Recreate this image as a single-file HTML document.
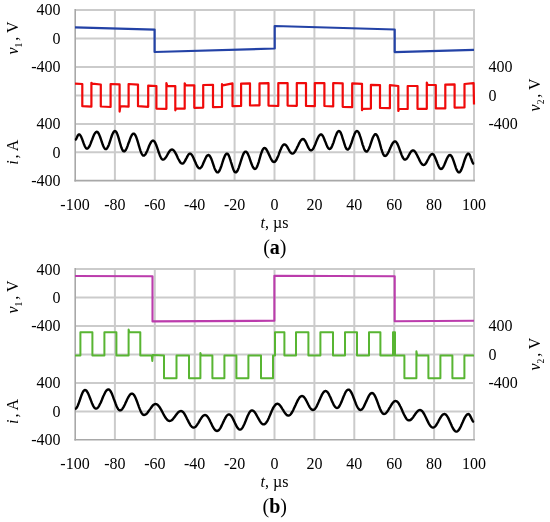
<!DOCTYPE html>
<html><head><meta charset="utf-8"><style>
html,body{margin:0;padding:0;background:#fff;}
svg{display:block;}
</style></head><body>
<svg width="550" height="522" viewBox="0 0 550 522">
<rect width="550" height="522" fill="#fff"/>
<g stroke="#cbcbcb" stroke-width="2"><line x1="114.9" y1="9" x2="114.9" y2="180.8"/><line x1="154.8" y1="9" x2="154.8" y2="180.8"/><line x1="194.7" y1="9" x2="194.7" y2="180.8"/><line x1="234.6" y1="9" x2="234.6" y2="180.8"/><line x1="274.5" y1="9" x2="274.5" y2="180.8"/><line x1="314.4" y1="9" x2="314.4" y2="180.8"/><line x1="354.3" y1="9" x2="354.3" y2="180.8"/><line x1="394.2" y1="9" x2="394.2" y2="180.8"/><line x1="434.1" y1="9" x2="434.1" y2="180.8"/><line x1="75" y1="10" x2="475" y2="10"/><line x1="75" y1="38.5" x2="475" y2="38.5"/><line x1="75" y1="66.9" x2="475" y2="66.9"/><line x1="75" y1="95.4" x2="475" y2="95.4"/><line x1="75" y1="123.9" x2="475" y2="123.9"/><line x1="75" y1="152.3" x2="475" y2="152.3"/><line x1="474" y1="9" x2="474" y2="180.8"/></g><g stroke="#a8a8a8" stroke-width="1.6"><line x1="75.2" y1="9" x2="75.2" y2="181.4"/><line x1="74.4" y1="180.6" x2="475" y2="180.6"/></g>
<g stroke="#cbcbcb" stroke-width="2"><line x1="114.9" y1="268.1" x2="114.9" y2="439.9"/><line x1="154.8" y1="268.1" x2="154.8" y2="439.9"/><line x1="194.7" y1="268.1" x2="194.7" y2="439.9"/><line x1="234.6" y1="268.1" x2="234.6" y2="439.9"/><line x1="274.5" y1="268.1" x2="274.5" y2="439.9"/><line x1="314.4" y1="268.1" x2="314.4" y2="439.9"/><line x1="354.3" y1="268.1" x2="354.3" y2="439.9"/><line x1="394.2" y1="268.1" x2="394.2" y2="439.9"/><line x1="434.1" y1="268.1" x2="434.1" y2="439.9"/><line x1="75" y1="269.1" x2="475" y2="269.1"/><line x1="75" y1="297.6" x2="475" y2="297.6"/><line x1="75" y1="326" x2="475" y2="326"/><line x1="75" y1="354.5" x2="475" y2="354.5"/><line x1="75" y1="383" x2="475" y2="383"/><line x1="75" y1="411.5" x2="475" y2="411.5"/><line x1="474" y1="268.1" x2="474" y2="439.9"/></g><g stroke="#a8a8a8" stroke-width="1.6"><line x1="75.2" y1="268.1" x2="75.2" y2="440.5"/><line x1="74.4" y1="439.7" x2="475" y2="439.7"/></g>
<polyline points="75,27.3 154.6,29.6 154.6,52 274.7,48.5 274.7,26 394.7,29.5 394.7,52.1 474,49.8" fill="none" stroke="#2342a6" stroke-width="2.2" stroke-linejoin="round" stroke-linecap="butt"/>
<polyline points="75,83.6 82.3,84 82.3,106.2 91.4,106.6 91.4,82.8 92.2,83.6 100.8,84.5 100.8,106.5 110.6,107 110.6,84 119.6,84.4 119.6,111.6 120.4,106.2 128.6,106.6 128.6,84 138,84.6 138,106.2 148.2,106.8 148.2,85.6 156.4,86 156.4,108.6 166.4,108.8 166.4,83 167.2,85.8 175.3,86.2 175.3,110.3 176.1,108.4 184.7,108.6 184.7,83.3 185.5,85.2 194.3,85.3 194.3,107.8 203.2,107.6 203.2,85 213,84.8 213,107.2 222,107 222,84 222.8,85.4 232.5,83.4 232.5,106.2 241.1,106 241.1,83.6 250,83.4 250,105.5 259.5,105.3 259.5,83.4 268.5,83.2 268.5,105.6 278.3,106 278.3,83.2 287.6,83 287.6,105.6 296.8,105.8 296.8,83 306,83.2 306,106 314.8,106.2 314.8,83 324.4,83.2 324.4,106 333.2,106.4 333.2,83 342.7,83.4 342.7,106.8 352.2,107.2 352.2,83.4 362,83.8 362,110.2 362.8,108.8 370.9,108.6 370.9,84.8 380,85.2 380,108 389.9,108.2 389.9,85.2 398.3,86 398.3,111 399.1,108.8 407.7,109 407.7,86 417.5,86 417.5,108.8 426.8,108.8 426.8,82.6 427.6,84.8 435.8,85 435.8,108.4 445.3,108.4 445.3,84.6 454.6,84.4 454.6,107.6 464.5,107.4 464.5,84 473.6,83.2 474,104.5" fill="none" stroke="#f00a0a" stroke-width="2.2" stroke-linejoin="round" stroke-linecap="butt"/>
<polyline points="75,140 75.5,139.8 76,139.2 76.5,138.3 77,137.2 77.5,136.1 78,135.2 78.5,134.6 79,134.4 79.5,134.5 80,134.9 80.5,135.6 81,136.5 81.5,137.6 82,138.8 82.5,140.1 83,141.5 83.5,142.9 84,144.2 84.5,145.4 85,146.5 85.5,147.4 86,148.1 86.5,148.5 87,148.6 87.5,148.5 88,148.1 88.5,147.6 89.1,146.8 89.6,145.9 90.1,144.8 90.6,143.6 91.1,142.3 91.6,140.9 92.2,139.5 92.7,138.1 93.2,136.8 93.7,135.6 94.2,134.5 94.7,133.6 95.3,132.8 95.8,132.3 96.3,131.9 96.8,131.8 97.3,131.9 97.8,132.3 98.3,133 98.8,133.8 99.3,134.9 99.8,136.1 100.3,137.5 100.8,138.9 101.3,140.4 101.8,142 102.3,143.4 102.8,144.8 103.3,146 103.8,147.1 104.3,147.9 104.8,148.6 105.3,149 105.8,149.1 106.3,149 106.8,148.6 107.3,147.9 107.8,147 108.4,145.9 108.9,144.6 109.4,143.1 109.9,141.6 110.4,140.1 110.9,138.5 111.4,137 111.9,135.5 112.4,134.2 113,133.1 113.5,132.2 114,131.5 114.5,131.1 115,131 115.5,131.2 116,131.6 116.5,132.4 117,133.4 117.5,134.6 118,136.1 118.5,137.7 119,139.4 119.5,141.2 120,143 120.5,144.7 121,146.3 121.5,147.8 122,149 122.5,150 123,150.8 123.5,151.2 124,151.4 124.5,151.3 125,150.9 125.5,150.3 126,149.5 126.5,148.5 127,147.4 127.5,146.1 128,144.7 128.5,143.2 129.1,141.8 129.6,140.3 130.1,138.9 130.6,137.6 131.1,136.5 131.6,135.5 132.1,134.7 132.6,134.1 133.1,133.7 133.6,133.6 134.1,133.7 134.6,134.1 135.1,134.8 135.6,135.7 136.1,136.8 136.6,138.1 137.1,139.6 137.6,141.2 138.1,142.9 138.6,144.6 139.1,146.3 139.6,148 140.1,149.6 140.6,151.1 141.1,152.4 141.6,153.5 142.1,154.4 142.6,155.1 143.1,155.5 143.6,155.6 144.1,155.5 144.6,155.1 145.2,154.6 145.7,153.8 146.2,152.9 146.7,151.8 147.3,150.7 147.8,149.4 148.3,148.1 148.8,146.8 149.3,145.5 149.9,144.3 150.4,143.3 150.9,142.4 151.4,141.6 152,141.1 152.5,140.7 153,140.6 153.5,140.7 154,141.1 154.5,141.6 155,142.4 155.5,143.4 156,144.5 156.5,145.8 157,147.2 157.5,148.6 158,150.1 158.5,151.6 159,153 159.5,154.4 160,155.7 160.5,156.8 161,157.8 161.5,158.6 162,159.1 162.5,159.5 163,159.6 163.5,159.5 164,159.3 164.5,158.9 165,158.4 165.5,157.8 166,157.1 166.5,156.3 167,155.4 167.5,154.6 168,153.7 168.5,152.8 169,152 169.5,151.3 170,150.7 170.5,150.2 171,149.8 171.5,149.6 172,149.5 172.5,149.6 173,149.8 173.6,150.3 174.1,150.8 174.6,151.6 175.1,152.4 175.6,153.3 176.2,154.4 176.7,155.4 177.2,156.5 177.7,157.7 178.2,158.7 178.8,159.8 179.3,160.7 179.8,161.5 180.3,162.3 180.8,162.8 181.4,163.3 181.9,163.5 182.4,163.6 182.9,163.5 183.4,163.2 183.9,162.6 184.4,161.9 184.9,161.1 185.4,160.1 185.9,159.1 186.5,158.1 187,157.1 187.5,156.1 188,155.3 188.5,154.6 189,154 189.5,153.7 190,153.6 190.5,153.7 191,154 191.5,154.5 192,155.2 192.5,156 193,157 193.5,158 194,159.2 194.5,160.4 195.1,161.6 195.6,162.8 196.1,164 196.6,165 197.1,166 197.6,166.8 198.1,167.5 198.6,168 199.1,168.3 199.6,168.4 200.1,168.3 200.6,167.9 201.2,167.4 201.7,166.7 202.2,165.7 202.7,164.7 203.2,163.5 203.7,162.3 204.3,161.1 204.8,159.9 205.3,158.7 205.8,157.7 206.3,156.7 206.8,156 207.4,155.5 207.9,155.1 208.4,155 208.9,155.1 209.4,155.5 209.9,156.2 210.4,157 211,158.1 211.5,159.3 212,160.7 212.5,162.2 213,163.7 213.5,165.2 214,166.7 214.5,168.1 215,169.3 215.6,170.4 216.1,171.2 216.6,171.9 217.1,172.3 217.6,172.4 218.1,172.3 218.6,171.8 219.2,171.1 219.7,170.2 220.2,169 220.7,167.7 221.3,166.2 221.8,164.6 222.3,163 222.8,161.4 223.3,159.8 223.9,158.3 224.4,157 224.9,155.8 225.4,154.9 226,154.2 226.5,153.7 227,153.6 227.5,153.8 228,154.2 228.5,155 229,156.1 229.5,157.3 230,158.8 230.5,160.4 231,162.1 231.6,163.9 232.1,165.6 232.6,167.2 233.1,168.7 233.6,169.9 234.1,171 234.6,171.8 235.1,172.2 235.6,172.4 236.1,172.3 236.6,171.9 237.1,171.3 237.6,170.4 238.1,169.4 238.6,168.1 239.1,166.7 239.6,165.2 240.1,163.6 240.6,162 241.1,160.4 241.6,158.8 242.1,157.3 242.6,155.9 243.1,154.6 243.6,153.6 244.1,152.7 244.6,152.1 245.1,151.7 245.6,151.6 246.1,151.7 246.6,152.1 247.2,152.8 247.7,153.6 248.2,154.7 248.7,155.9 249.3,157.3 249.8,158.8 250.3,160.3 250.8,161.8 251.3,163.3 251.9,164.7 252.4,165.9 252.9,167 253.4,167.8 254,168.5 254.5,168.9 255,169 255.5,168.8 256,168.4 256.6,167.6 257.1,166.5 257.6,165.2 258.1,163.8 258.7,162.1 259.2,160.3 259.7,158.5 260.2,156.7 260.7,154.9 261.3,153.2 261.8,151.8 262.3,150.5 262.8,149.4 263.4,148.6 263.9,148.2 264.4,148 264.9,148.1 265.4,148.4 265.9,148.8 266.4,149.5 266.9,150.3 267.4,151.2 267.9,152.2 268.4,153.3 268.9,154.4 269.5,155.6 270,156.7 270.5,157.8 271,158.8 271.5,159.7 272,160.5 272.5,161.2 273,161.6 273.5,161.9 274,162 274.5,161.9 275,161.6 275.6,161 276.1,160.3 276.6,159.4 277.1,158.4 277.6,157.2 278.2,155.9 278.7,154.6 279.2,153.2 279.7,151.8 280.2,150.5 280.8,149.2 281.3,148 281.8,147 282.3,146.1 282.8,145.4 283.4,144.8 283.9,144.5 284.4,144.4 284.9,144.5 285.4,144.8 285.9,145.2 286.4,145.7 286.9,146.4 287.4,147.2 287.9,148.1 288.4,149 288.9,149.9 289.4,150.8 289.9,151.6 290.4,152.3 290.9,152.8 291.4,153.2 291.9,153.5 292.4,153.6 292.9,153.5 293.4,153.3 293.9,152.9 294.4,152.3 294.9,151.7 295.4,150.9 295.9,149.9 296.4,149 296.9,147.9 297.4,146.8 298,145.8 298.5,144.7 299,143.6 299.5,142.7 300,141.7 300.5,140.9 301,140.3 301.5,139.7 302,139.3 302.5,139.1 303,139 303.5,139.1 304,139.4 304.5,140 305,140.7 305.5,141.5 306,142.5 306.5,143.6 307,144.7 307.5,145.8 308,146.9 308.5,147.9 309,148.7 309.5,149.4 310,150 310.5,150.3 311,150.4 311.5,150.3 312,150 312.5,149.5 313,148.9 313.5,148.1 314,147.1 314.5,146 315,144.9 315.5,143.7 316,142.4 316.5,141.1 317,139.9 317.5,138.8 318,137.7 318.5,136.7 319,135.9 319.5,135.3 320,134.8 320.5,134.5 321,134.4 321.5,134.5 322,134.9 322.5,135.5 323,136.3 323.5,137.3 324,138.4 324.5,139.7 325,141 325.6,142.4 326.1,143.7 326.6,145 327.1,146.1 327.6,147.1 328.1,147.9 328.6,148.5 329.1,148.9 329.6,149 330.1,148.9 330.6,148.5 331.2,147.8 331.7,146.9 332.2,145.8 332.7,144.5 333.3,143.1 333.8,141.6 334.3,140 334.8,138.4 335.3,136.9 335.9,135.5 336.4,134.2 336.9,133.1 337.4,132.2 338,131.5 338.5,131.1 339,131 339.5,131.2 340,131.6 340.5,132.4 341,133.4 341.5,134.7 342,136.2 342.5,137.8 343,139.4 343.6,141.2 344.1,142.8 344.6,144.4 345.1,145.9 345.6,147.2 346.1,148.2 346.6,149 347.1,149.4 347.6,149.6 348.1,149.5 348.6,149 349.2,148.4 349.7,147.4 350.2,146.3 350.7,144.9 351.3,143.5 351.8,141.9 352.3,140.3 352.8,138.7 353.3,137.1 353.9,135.7 354.4,134.3 354.9,133.2 355.4,132.2 356,131.6 356.5,131.1 357,131 357.5,131.2 358,131.6 358.6,132.4 359.1,133.4 359.6,134.7 360.1,136.2 360.7,137.8 361.2,139.5 361.7,141.3 362.2,143.1 362.7,144.8 363.3,146.4 363.8,147.9 364.3,149.2 364.8,150.2 365.4,151 365.9,151.4 366.4,151.6 366.9,151.5 367.4,151.1 367.9,150.4 368.4,149.6 369,148.5 369.5,147.2 370,145.9 370.5,144.4 371,142.9 371.5,141.4 372,139.9 372.5,138.5 373,137.3 373.6,136.2 374.1,135.4 374.6,134.7 375.1,134.3 375.6,134.2 376.1,134.4 376.6,134.9 377.2,135.7 377.7,136.8 378.2,138.1 378.7,139.6 379.3,141.4 379.8,143.2 380.3,145.1 380.8,147 381.3,148.8 381.9,150.5 382.4,152.1 382.9,153.4 383.4,154.5 384,155.3 384.5,155.8 385,156 385.5,155.9 386,155.6 386.5,155.2 387,154.6 387.5,153.9 388,153 388.5,152 389,151 389.5,149.8 390,148.7 390.5,147.6 391,146.4 391.5,145.4 392,144.4 392.5,143.5 393,142.8 393.5,142.2 394,141.8 394.5,141.5 395,141.4 395.5,141.5 396,141.8 396.5,142.4 397,143.1 397.5,144.1 398,145.2 398.5,146.4 399,147.7 399.5,149.1 400,150.5 400.5,151.9 401,153.3 401.5,154.6 402,155.8 402.5,156.9 403,157.9 403.5,158.6 404,159.2 404.5,159.5 405,159.6 405.5,159.5 406,159.2 406.5,158.8 407,158.3 407.5,157.6 408,156.8 408.5,155.9 409,155 409.5,154.1 410,153.2 410.5,152.4 411,151.7 411.5,151.2 412,150.8 412.5,150.5 413,150.4 413.5,150.5 414,150.7 414.5,151.1 415,151.7 415.5,152.3 416,153.1 416.5,154.1 417,155 417.5,156.1 418,157.2 418.6,158.2 419.1,159.3 419.6,160.4 420.1,161.3 420.6,162.3 421.1,163.1 421.6,163.7 422.1,164.3 422.6,164.7 423.1,164.9 423.6,165 424.1,164.9 424.6,164.6 425.2,164.2 425.7,163.6 426.2,162.8 426.7,162 427.2,161 427.7,160 428.3,159 428.8,158 429.3,157 429.8,156.2 430.3,155.4 430.8,154.8 431.4,154.4 431.9,154.1 432.4,154 432.9,154.1 433.4,154.5 433.9,155.1 434.4,156 434.9,157 435.4,158.2 435.9,159.4 436.4,160.8 437,162.2 437.5,163.6 438,164.8 438.5,166 439,167 439.5,167.9 440,168.5 440.5,168.9 441,169 441.5,168.9 442,168.6 442.5,168.1 443,167.4 443.5,166.5 444,165.5 444.5,164.4 445,163.2 445.5,162 446,160.8 446.5,159.6 447,158.5 447.5,157.5 448,156.6 448.5,155.9 449,155.4 449.5,155.1 450,155 450.5,155.1 451,155.5 451.5,156.2 452,157 452.5,158.1 453,159.3 453.5,160.7 454,162.2 454.5,163.7 455,165.2 455.5,166.7 456,168.1 456.5,169.3 457,170.4 457.5,171.2 458,171.9 458.5,172.3 459,172.4 459.5,172.3 460,171.8 460.6,171.1 461.1,170.2 461.6,169 462.1,167.7 462.7,166.2 463.2,164.6 463.7,163 464.2,161.4 464.7,159.8 465.3,158.3 465.8,157 466.3,155.8 466.8,154.9 467.4,154.2 467.9,153.7 468.4,153.6 468.9,153.8 469.4,154.4 469.9,155.4 470.4,156.6 470.9,158.1 471.5,159.5 472,161 472.5,162.2 473,163.2 473.5,163.8 474,164" fill="none" stroke="#000000" stroke-width="2.4" stroke-linejoin="round" stroke-linecap="butt"/>
<polyline points="75,276 152.5,276.2 152.5,321.4 274.4,320.8 274.4,275.8 394.7,276.3 394.7,321.3 474,320.8" fill="none" stroke="#bb3cac" stroke-width="2.1" stroke-linejoin="round" stroke-linecap="butt"/>
<polyline points="75,355.6 80.4,355.6 80.4,332.2 92.4,332.2 92.4,355.6 104.4,355.6 104.4,332.2 116.4,332.2 116.4,355.6 128.6,355.6 128.6,329.4 129.4,332.2 140.3,332.2 140.3,355.6 151.8,355.6 152.3,361 152.8,355 164,355.6 164,378.3 176.5,378.3 176.5,355.6 189,355.6 189,378.3 200.4,378.3 200.4,353 201.2,355.6 212.4,355.6 212.4,378.3 224.4,378.3 224.4,355.6 236.4,355.6 236.4,378.3 248.4,378.3 248.4,355.6 261,355.6 261,378.3 273,378.3 273,355.6 275,355.6 275,332.2 284.4,332.2 284.4,355.6 296,355.6 296,332.2 308.4,332.2 308.4,355.6 320.4,355.6 320.4,332.2 333,332.2 333,355.6 345,355.6 345,332.2 357,332.2 357,355.6 369,355.6 369,332.2 380.4,332.2 380.4,355.6 393,355.6 393,332.2 395,332.2 395,355.6 404.4,355.6 404.4,378.3 416.4,378.3 416.4,351.2 417.2,355.6 428.4,355.6 428.4,378.3 440.4,378.3 440.4,355.6 452.4,355.6 452.4,378.3 464.4,378.3 464.4,355.6 474,355.6" fill="none" stroke="#58b532" stroke-width="2" stroke-linejoin="round" stroke-linecap="butt"/>
<polyline points="75,409 75.5,408.9 76,408.5 76.5,408 77,407.2 77.5,406.2 78,405.1 78.5,403.8 79,402.4 79.5,401 80,399.5 80.5,398 81,396.6 81.5,395.2 82,393.9 82.5,392.8 83,391.8 83.5,391 84,390.5 84.5,390.1 85,390 85.5,390.1 86,390.4 86.5,390.8 87,391.5 87.5,392.3 88,393.2 88.5,394.3 89,395.4 89.5,396.7 90,398 90.5,399.3 91,400.6 91.5,401.9 92,403.2 92.5,404.3 93,405.4 93.5,406.3 94,407.1 94.5,407.8 95,408.2 95.5,408.5 96,408.6 96.5,408.5 97,408.3 97.5,407.9 98.1,407.3 98.6,406.6 99.1,405.8 99.6,404.8 100.1,403.8 100.7,402.7 101.2,401.5 101.7,400.3 102.2,399 102.7,397.7 103.2,396.5 103.8,395.3 104.3,394.2 104.8,393.2 105.3,392.2 105.8,391.4 106.3,390.7 106.9,390.1 107.4,389.7 107.9,389.5 108.4,389.4 108.9,389.5 109.4,389.8 109.9,390.3 110.4,390.9 110.9,391.8 111.4,392.7 111.9,393.8 112.4,395.1 112.9,396.4 113.4,397.8 113.9,399.2 114.5,400.6 115,402 115.5,403.4 116,404.7 116.5,406 117,407.1 117.5,408 118,408.9 118.5,409.5 119,410 119.5,410.3 120,410.4 120.5,410.3 121,410.1 121.5,409.8 122,409.3 122.5,408.7 123,407.9 123.5,407.1 124,406.2 124.5,405.2 125,404.2 125.5,403.1 126,402 126.5,400.9 127,399.8 127.5,398.8 128,397.8 128.5,396.9 129,396.1 129.5,395.3 130,394.7 130.5,394.2 131,393.9 131.5,393.7 132,393.6 132.5,393.7 133,394 133.5,394.4 134,395 134.5,395.8 135,396.7 135.5,397.8 136,398.9 136.5,400.2 137,401.5 137.5,402.9 138,404.3 138.5,405.7 139,407.1 139.5,408.4 140,409.6 140.5,410.8 141,411.9 141.5,412.8 142,413.6 142.5,414.2 143,414.6 143.5,414.9 144,415 144.5,414.9 145,414.8 145.5,414.5 146,414.2 146.5,413.8 147,413.3 147.5,412.7 148,412 148.5,411.3 149,410.6 149.5,409.9 150.1,409.1 150.6,408.4 151.1,407.7 151.6,407 152.1,406.3 152.6,405.7 153.1,405.2 153.6,404.8 154.1,404.5 154.6,404.2 155.1,404.1 155.6,404 156.1,404.1 156.6,404.2 157.1,404.5 157.6,404.8 158.1,405.3 158.6,405.9 159.1,406.5 159.6,407.2 160.1,408 160.6,408.8 161.1,409.7 161.6,410.6 162.1,411.5 162.6,412.5 163.1,413.5 163.6,414.4 164.1,415.3 164.6,416.2 165.1,417 165.6,417.8 166.1,418.5 166.6,419.1 167.1,419.7 167.6,420.2 168.1,420.5 168.6,420.8 169.1,420.9 169.6,421 170.1,420.9 170.6,420.8 171.2,420.5 171.7,420.2 172.2,419.8 172.7,419.3 173.2,418.7 173.7,418.1 174.3,417.4 174.8,416.7 175.3,416 175.8,415.3 176.3,414.6 176.9,413.9 177.4,413.3 177.9,412.7 178.4,412.2 178.9,411.8 179.4,411.5 180,411.2 180.5,411.1 181,411 181.5,411.1 182,411.3 182.5,411.6 183,412 183.5,412.6 184,413.2 184.5,414 185,414.9 185.5,415.8 186,416.7 186.5,417.7 187,418.8 187.6,419.8 188.1,420.9 188.6,421.9 189.1,422.8 189.6,423.7 190.1,424.6 190.6,425.4 191.1,426 191.6,426.6 192.1,427 192.6,427.3 193.1,427.5 193.6,427.6 194.1,427.5 194.6,427.3 195.2,427 195.7,426.6 196.2,426.1 196.7,425.4 197.2,424.7 197.7,423.9 198.3,423.1 198.8,422.2 199.3,421.3 199.8,420.4 200.3,419.5 200.9,418.7 201.4,417.9 201.9,417.2 202.4,416.5 202.9,416 203.4,415.6 204,415.3 204.5,415.1 205,415 205.5,415.1 206,415.3 206.5,415.6 207,416.1 207.5,416.7 208,417.3 208.5,418.1 209,419 209.5,419.9 210,420.9 210.5,422 211,423 211.5,424 212,425.1 212.5,426.1 213,427 213.5,427.9 214,428.7 214.5,429.3 215,429.9 215.5,430.4 216,430.7 216.5,430.9 217,431 217.5,430.9 218,430.7 218.5,430.4 219,429.9 219.5,429.3 220,428.6 220.5,427.8 221,426.9 221.5,425.9 222,424.8 222.5,423.8 223,422.7 223.5,421.6 224,420.6 224.5,419.5 225,418.6 225.5,417.6 226,416.8 226.5,416.1 227,415.5 227.5,415 228,414.7 228.5,414.5 229,414.4 229.5,414.5 230,414.7 230.5,415.1 231,415.6 231.5,416.3 232,417 232.5,417.9 233,418.8 233.5,419.9 234,420.9 234.5,422 235,423.1 235.5,424.1 236,425.2 236.5,426.1 237,427 237.5,427.7 238,428.4 238.5,428.9 239,429.3 239.5,429.5 240,429.6 240.5,429.5 241,429.3 241.5,428.9 242,428.3 242.5,427.6 243,426.8 243.5,425.8 244,424.8 244.5,423.7 245,422.5 245.5,421.3 246,420 246.5,418.7 247,417.5 247.5,416.3 248,415.2 248.5,414.2 249,413.2 249.5,412.4 250,411.7 250.5,411.1 251,410.7 251.5,410.5 252,410.4 252.5,410.5 253,410.7 253.5,411 254,411.4 254.5,412 255,412.6 255.5,413.4 256,414.2 256.5,415.1 257,416 257.5,416.9 258.1,417.9 258.6,418.8 259.1,419.7 259.6,420.6 260.1,421.4 260.6,422.2 261.1,422.8 261.6,423.4 262.1,423.8 262.6,424.1 263.1,424.3 263.6,424.4 264.1,424.3 264.6,424.1 265.1,423.8 265.6,423.3 266.1,422.7 266.6,422 267.2,421.2 267.7,420.3 268.2,419.2 268.7,418.2 269.2,417.1 269.7,415.9 270.2,414.7 270.7,413.5 271.2,412.3 271.7,411.1 272.2,410 272.7,408.9 273.2,407.9 273.7,407 274.3,406.2 274.8,405.5 275.3,404.9 275.8,404.4 276.3,404.1 276.8,403.9 277.3,403.8 277.8,403.9 278.3,404 278.8,404.3 279.3,404.7 279.8,405.2 280.3,405.8 280.8,406.5 281.3,407.2 281.8,408 282.3,408.9 282.9,409.7 283.4,410.5 283.9,411.4 284.4,412.2 284.9,412.9 285.4,413.6 285.9,414.2 286.4,414.7 286.9,415.1 287.4,415.4 287.9,415.5 288.4,415.6 288.9,415.5 289.4,415.3 289.9,415 290.4,414.6 290.9,414 291.4,413.3 291.9,412.5 292.4,411.7 292.9,410.7 293.4,409.7 293.9,408.6 294.4,407.5 294.9,406.4 295.5,405.2 296,404.1 296.5,403 297,401.9 297.5,400.9 298,399.9 298.5,399.1 299,398.3 299.5,397.6 300,397 300.5,396.6 301,396.3 301.5,396.1 302,396 302.5,396.1 303,396.3 303.5,396.6 304,397.1 304.5,397.7 305,398.4 305.5,399.2 306,400.1 306.5,401 307,402 307.5,403 308,404 308.5,405 309,405.9 309.5,406.8 310,407.6 310.5,408.3 311,408.9 311.5,409.4 312,409.7 312.5,409.9 313,410 313.5,409.9 314,409.7 314.5,409.3 315,408.8 315.5,408.2 316,407.4 316.5,406.6 317,405.6 317.5,404.5 318,403.4 318.5,402.3 319,401.1 319.6,399.9 320.1,398.7 320.6,397.6 321.1,396.5 321.6,395.4 322.1,394.4 322.6,393.6 323.1,392.8 323.6,392.2 324.1,391.7 324.6,391.3 325.1,391.1 325.6,391 326.1,391.1 326.6,391.3 327.2,391.8 327.7,392.3 328.2,393.1 328.7,393.9 329.2,394.9 329.7,396 330.3,397.1 330.8,398.3 331.3,399.5 331.8,400.7 332.3,401.9 332.9,403 333.4,404.1 333.9,405.1 334.4,405.9 334.9,406.7 335.4,407.2 336,407.7 336.5,407.9 337,408 337.5,407.9 338,407.6 338.6,407.2 339.1,406.5 339.6,405.8 340.1,404.8 340.6,403.8 341.1,402.6 341.7,401.4 342.2,400.1 342.7,398.8 343.2,397.5 343.7,396.2 344.3,395 344.8,393.8 345.3,392.8 345.8,391.8 346.3,391.1 346.8,390.4 347.4,390 347.9,389.7 348.4,389.6 348.9,389.7 349.4,389.9 349.9,390.4 350.4,391 350.9,391.7 351.4,392.6 351.9,393.6 352.4,394.7 352.9,395.9 353.4,397.2 353.9,398.5 354.4,399.8 354.9,401.1 355.4,402.4 355.9,403.7 356.4,404.9 356.9,406 357.4,407 357.9,407.9 358.4,408.6 358.9,409.2 359.4,409.7 359.9,409.9 360.4,410 360.9,409.9 361.4,409.7 361.9,409.3 362.4,408.8 362.9,408.1 363.4,407.3 363.9,406.4 364.4,405.4 364.9,404.3 365.4,403.2 365.9,402.1 366.5,400.9 367,399.8 367.5,398.7 368,397.6 368.5,396.6 369,395.7 369.5,394.9 370,394.2 370.5,393.7 371,393.3 371.5,393.1 372,393 372.5,393.1 373,393.4 373.5,393.8 374,394.4 374.5,395.2 375,396.1 375.5,397.1 376,398.2 376.5,399.5 377,400.8 377.5,402.1 378,403.5 378.5,404.9 379,406.2 379.5,407.5 380,408.8 380.5,409.9 381,410.9 381.5,411.8 382,412.6 382.5,413.2 383,413.6 383.5,413.9 384,414 384.5,413.9 385,413.8 385.5,413.5 386,413.1 386.5,412.5 387,411.9 387.5,411.2 388,410.5 388.5,409.7 389,408.8 389.5,407.9 390.1,407.1 390.6,406.2 391.1,405.3 391.6,404.5 392.1,403.8 392.6,403.1 393.1,402.5 393.6,401.9 394.1,401.5 394.6,401.2 395.1,401.1 395.6,401 396.1,401.1 396.6,401.3 397.1,401.6 397.7,402.1 398.2,402.7 398.7,403.4 399.2,404.3 399.7,405.2 400.2,406.2 400.8,407.3 401.3,408.4 401.8,409.5 402.3,410.7 402.8,411.9 403.3,413 403.8,414.1 404.4,415.2 404.9,416.2 405.4,417.1 405.9,418 406.4,418.7 406.9,419.3 407.5,419.8 408,420.1 408.5,420.3 409,420.4 409.5,420.3 410,420.2 410.5,419.9 411,419.6 411.5,419.1 412,418.6 412.5,418 413,417.4 413.5,416.7 414,415.9 414.5,415.2 415,414.5 415.5,413.7 416,413 416.5,412.4 417,411.8 417.5,411.3 418,410.8 418.5,410.5 419,410.2 419.5,410.1 420,410 420.5,410.1 421,410.3 421.5,410.6 422,411 422.5,411.6 423,412.2 423.5,413 424,413.8 424.5,414.7 425,415.7 425.5,416.7 426,417.7 426.5,418.8 427,419.9 427.5,420.9 428,421.9 428.5,422.9 429,423.8 429.5,424.6 430,425.4 430.5,426 431,426.6 431.5,427 432,427.3 432.5,427.5 433,427.6 433.5,427.5 434,427.3 434.6,427 435.1,426.5 435.6,425.9 436.1,425.3 436.6,424.5 437.1,423.6 437.7,422.7 438.2,421.8 438.7,420.8 439.2,419.8 439.7,418.9 440.3,418 440.8,417.1 441.3,416.3 441.8,415.7 442.3,415.1 442.8,414.6 443.4,414.3 443.9,414.1 444.4,414 444.9,414.1 445.4,414.3 445.9,414.7 446.4,415.2 446.9,415.8 447.4,416.6 447.9,417.4 448.4,418.4 448.9,419.4 449.4,420.5 449.9,421.7 450.4,422.8 450.9,423.9 451.4,425.1 451.9,426.2 452.4,427.2 452.9,428.2 453.4,429 453.9,429.8 454.4,430.4 454.9,430.9 455.4,431.3 455.9,431.5 456.4,431.6 456.9,431.5 457.4,431.3 457.9,430.9 458.4,430.4 458.9,429.8 459.4,429 459.9,428.2 460.4,427.2 460.9,426.2 461.4,425.1 461.9,423.9 462.4,422.8 462.9,421.7 463.4,420.5 463.9,419.4 464.4,418.4 464.9,417.4 465.4,416.6 465.9,415.8 466.4,415.2 466.9,414.7 467.4,414.3 467.9,414.1 468.4,414 468.9,414.2 469.4,414.6 469.9,415.4 470.4,416.3 470.9,417.4 471.5,418.6 472,419.7 472.5,420.6 473,421.4 473.5,421.8 474,422" fill="none" stroke="#000000" stroke-width="2.4" stroke-linejoin="round" stroke-linecap="butt"/>
<g font-family="Liberation Serif, serif" font-size="16" fill="#000">
<text x="60.5" y="15.4" text-anchor="end">400</text><text x="60.5" y="43.9" text-anchor="end">0</text><text x="60.5" y="72.3" text-anchor="end">-400</text><text x="60.5" y="129.3" text-anchor="end">400</text><text x="60.5" y="157.8" text-anchor="end">0</text><text x="60.5" y="186.2" text-anchor="end">-400</text><text x="488.5" y="72.3">400</text><text x="488.5" y="100.8">0</text><text x="488.5" y="129.3">-400</text><text x="75" y="209.8" text-anchor="middle">-100</text><text x="114.9" y="209.8" text-anchor="middle">-80</text><text x="154.8" y="209.8" text-anchor="middle">-60</text><text x="194.7" y="209.8" text-anchor="middle">-40</text><text x="234.6" y="209.8" text-anchor="middle">-20</text><text x="274.5" y="209.8" text-anchor="middle">0</text><text x="314.4" y="209.8" text-anchor="middle">20</text><text x="354.3" y="209.8" text-anchor="middle">40</text><text x="394.2" y="209.8" text-anchor="middle">60</text><text x="434.1" y="209.8" text-anchor="middle">80</text><text x="474" y="209.8" text-anchor="middle">100</text><text transform="translate(17.7,54.5) rotate(-90)"><tspan font-style="italic">v</tspan><tspan font-size="9.5" dy="4.2">1</tspan><tspan dy="-4.2" dx="2">, V</tspan></text><text transform="translate(18,152.3) rotate(-90)" text-anchor="middle"><tspan font-style="italic">i</tspan><tspan dx="2">, A</tspan></text><text transform="translate(539.8,111.4) rotate(-90)"><tspan font-style="italic">v</tspan><tspan font-size="9.5" dy="4.2">2</tspan><tspan dy="-4.2" dx="1.8">, V</tspan></text><text x="274.5" y="228" text-anchor="middle"><tspan font-style="italic">t</tspan>, &#181;s</text><text x="274.8" y="253.7" text-anchor="middle" font-size="20">(<tspan font-weight="bold">a</tspan>)</text>
<text x="60.5" y="274.5" text-anchor="end">400</text><text x="60.5" y="303" text-anchor="end">0</text><text x="60.5" y="331.4" text-anchor="end">-400</text><text x="60.5" y="388.4" text-anchor="end">400</text><text x="60.5" y="416.9" text-anchor="end">0</text><text x="60.5" y="445.3" text-anchor="end">-400</text><text x="488.5" y="331.4">400</text><text x="488.5" y="359.9">0</text><text x="488.5" y="388.4">-400</text><text x="75" y="468.9" text-anchor="middle">-100</text><text x="114.9" y="468.9" text-anchor="middle">-80</text><text x="154.8" y="468.9" text-anchor="middle">-60</text><text x="194.7" y="468.9" text-anchor="middle">-40</text><text x="234.6" y="468.9" text-anchor="middle">-20</text><text x="274.5" y="468.9" text-anchor="middle">0</text><text x="314.4" y="468.9" text-anchor="middle">20</text><text x="354.3" y="468.9" text-anchor="middle">40</text><text x="394.2" y="468.9" text-anchor="middle">60</text><text x="434.1" y="468.9" text-anchor="middle">80</text><text x="474" y="468.9" text-anchor="middle">100</text><text transform="translate(17.7,313.6) rotate(-90)"><tspan font-style="italic">v</tspan><tspan font-size="9.5" dy="4.2">1</tspan><tspan dy="-4.2" dx="2">, V</tspan></text><text transform="translate(18,411.5) rotate(-90)" text-anchor="middle"><tspan font-style="italic">i</tspan><tspan dx="2">, A</tspan></text><text transform="translate(539.8,370.5) rotate(-90)"><tspan font-style="italic">v</tspan><tspan font-size="9.5" dy="4.2">2</tspan><tspan dy="-4.2" dx="1.8">, V</tspan></text><text x="274.5" y="487.1" text-anchor="middle"><tspan font-style="italic">t</tspan>, &#181;s</text><text x="274.8" y="513.3" text-anchor="middle" font-size="20">(<tspan font-weight="bold">b</tspan>)</text>
</g>
</svg>
</body></html>
